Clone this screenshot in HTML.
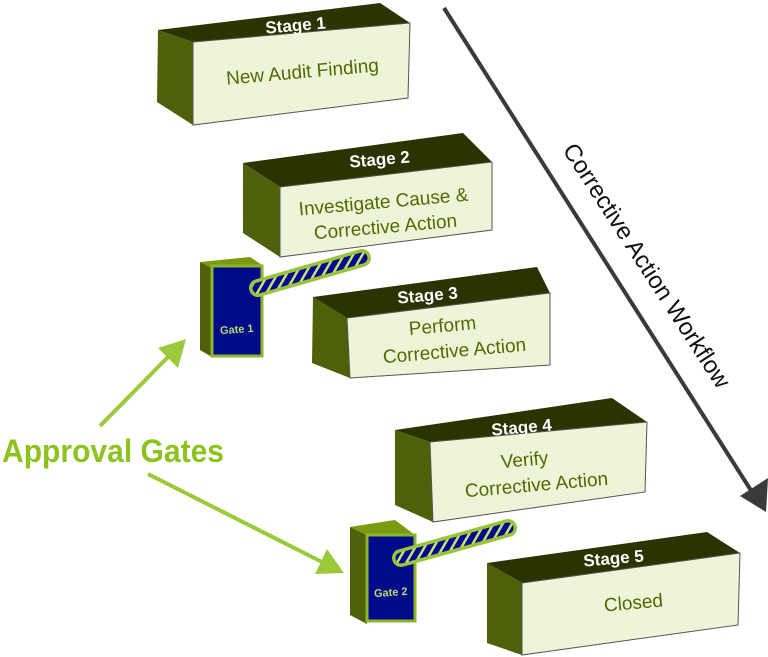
<!DOCTYPE html>
<html><head><meta charset="utf-8"><style>
html,body{margin:0;padding:0;background:#fff;}
svg{display:block;font-family:"Liberation Sans",sans-serif;}
.st{fill:#fff;font-weight:bold;font-size:17px;}
.lb{fill:#4f6b00;font-size:19px;}
.side{fill:#4d6208;}
.top{fill:#2b3300;}
.front{fill:#eef4d8;stroke:#555;stroke-width:1;}
</style></head><body>
<svg width="768" height="657" viewBox="0 0 768 657" xmlns="http://www.w3.org/2000/svg">
<defs>
<pattern id="stripes" width="8" height="8" patternUnits="userSpaceOnUse" patternTransform="rotate(30)">
<rect width="8" height="8" fill="#000a8a"/><rect width="2.5" height="8" fill="#c9e07a"/>
</pattern>
</defs>

<line x1="444" y1="8" x2="752" y2="492" stroke="#3a3a3a" stroke-width="4"/>
<polygon points="766,512 740,496 768,478" fill="#3a3a3a"/>
<text transform="translate(640,270) rotate(57)" text-anchor="middle" font-size="24" fill="#111">Corrective Action Workflow</text>

<polygon class="side" points="158,30 193,42 193,125 157,102"/>
<polygon class="top" points="158,30 380,3 410,23 193,42"/>
<polygon class="front" points="193,42 410,23 408,98 193,125"/>
<text class="st" transform="translate(296,31) rotate(-5)" text-anchor="middle">Stage 1</text>
<text class="lb" transform="translate(303,78) rotate(-5)" text-anchor="middle">New Audit Finding</text>

<polygon class="side" points="243,163 280,187 280,257 243,233"/>
<polygon class="top" points="243,163 463,133 492,162 280,187"/>
<polygon class="front" points="280,187 492,162 492,230 280,257"/>
<text class="st" transform="translate(380,165) rotate(-5)" text-anchor="middle">Stage 2</text>
<text class="lb" transform="translate(384,208) rotate(-5)" text-anchor="middle">Investigate Cause &amp;</text>
<text class="lb" transform="translate(386,233) rotate(-5)" text-anchor="middle">Corrective Action</text>

<polygon points="200,262 250,257 262,265 212,268" fill="#7a9a10"/>
<polygon points="200,262 212,268 212,357 200,350" fill="#4d6208"/>
<rect x="212" y="266" width="50" height="90" fill="#000a8a" stroke="#8db52a" stroke-width="3"/>
<text x="237" y="333" font-size="11" font-weight="bold" fill="#b8d96a" text-anchor="middle" transform="rotate(-4 237 333)">Gate 1</text>
<line x1="258" y1="288" x2="362" y2="258" stroke="#9bc43a" stroke-width="18" stroke-linecap="round"/>
<line x1="258" y1="288" x2="362" y2="258" stroke="url(#stripes)" stroke-width="11" stroke-linecap="round"/>

<polygon class="side" points="313,297 347,318 350,378 312,363"/>
<polygon class="top" points="313,297 537,267 550,293 347,318"/>
<polygon class="front" points="347,318 550,293 550,365 350,378"/>
<text class="st" transform="translate(428,301) rotate(-5)" text-anchor="middle">Stage 3</text>
<text class="lb" transform="translate(443,332) rotate(-5)" text-anchor="middle">Perform</text>
<text class="lb" transform="translate(455,357) rotate(-5)" text-anchor="middle">Corrective Action</text>

<polygon class="side" points="395,430 430,442 433,522 395,505"/>
<polygon class="top" points="395,430 612,398 647,422 430,442"/>
<polygon class="front" points="430,442 647,422 645,492 433,522"/>
<text class="st" transform="translate(522,433) rotate(-5)" text-anchor="middle">Stage 4</text>
<text class="lb" transform="translate(525,466) rotate(-5)" text-anchor="middle">Verify</text>
<text class="lb" transform="translate(537,491) rotate(-5)" text-anchor="middle">Corrective Action</text>

<polygon points="350,527 395,520 415,535 367,535" fill="#7a9a10"/>
<polygon points="350,527 367,535 367,624 350,615" fill="#4d6208"/>
<rect x="367" y="535" width="48" height="86" fill="#000a8a" stroke="#8db52a" stroke-width="3"/>
<text x="391" y="596" font-size="11" font-weight="bold" fill="#b8d96a" text-anchor="middle" transform="rotate(-4 391 596)">Gate 2</text>
<line x1="401" y1="558" x2="508" y2="528" stroke="#9bc43a" stroke-width="18" stroke-linecap="round"/>
<line x1="401" y1="558" x2="508" y2="528" stroke="url(#stripes)" stroke-width="11" stroke-linecap="round"/>

<polygon class="side" points="487,563 522,583 522,655 487,643"/>
<polygon class="top" points="487,563 707,532 740,553 522,583"/>
<polygon class="front" points="522,583 740,553 738,625 522,655"/>
<text class="st" transform="translate(614,564) rotate(-5)" text-anchor="middle">Stage 5</text>
<text class="lb" transform="translate(634,609) rotate(-5)" text-anchor="middle">Closed</text>

<text x="2" y="462" font-size="32" font-weight="bold" fill="#8dc21f" textLength="222" lengthAdjust="spacingAndGlyphs">Approval Gates</text>
<line x1="100" y1="426" x2="168" y2="357" stroke="#9cc93a" stroke-width="4"/>
<polygon points="186,339 178,368 158,348" fill="#9cc93a"/>
<line x1="148" y1="474" x2="322" y2="562" stroke="#9cc93a" stroke-width="4"/>
<polygon points="344,573 315,574 327,549" fill="#9cc93a"/>
</svg>
</body></html>
